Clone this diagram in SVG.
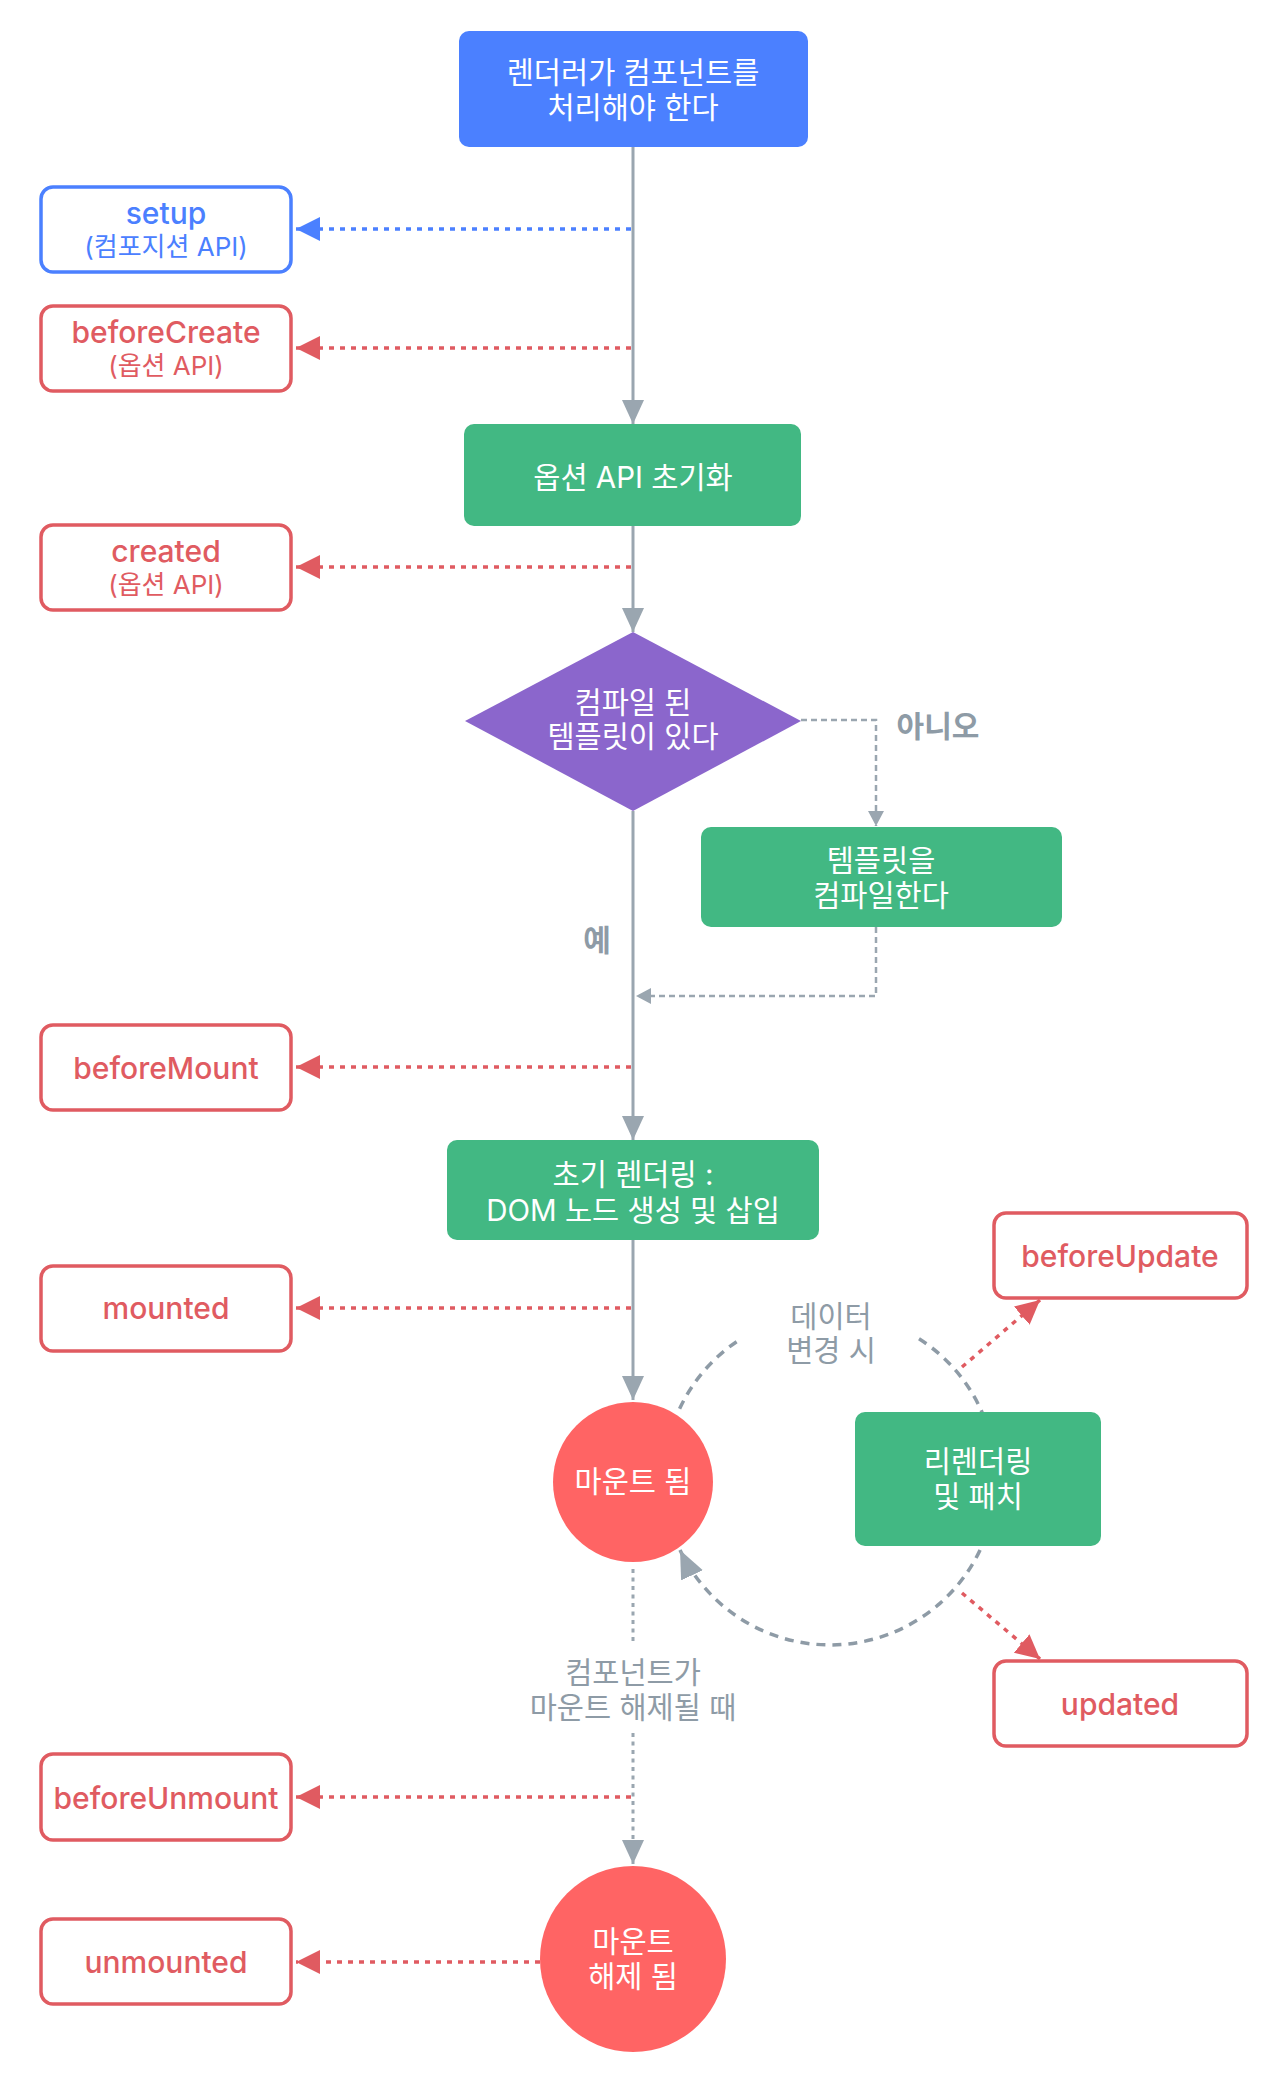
<svg xmlns="http://www.w3.org/2000/svg" width="1280" height="2089" viewBox="0 0 1280 2089">
<style>
text{font-family:Inter,"Noto Sans CJK KR",sans-serif;text-anchor:middle;font-weight:400}
.w{fill:#ffffff;font-size:29.5px}
.hk{fill:#ffffff;stroke-width:3.5}
.red{stroke:#e05b61}
.blue{stroke:#4b80ff}
.rt{fill:#e05b61;font-size:30px;font-weight:500}
.rt2{fill:#e05b61;font-size:26px}
.bt{fill:#4b80ff;font-size:30px;font-weight:500}
.bt2{fill:#4b80ff;font-size:26px}
.lbl{fill:#8e9ba6;font-size:29.5px}
.lblb{fill:#8e9ba6;font-size:30px;font-weight:700}
.solid{stroke:#9aa6b0;stroke-width:3;fill:none}
.dg{stroke:#9aa6b0;stroke-width:2.5;fill:none;stroke-dasharray:6 4}
.dv{stroke:#9aa6b0;stroke-width:3;fill:none;stroke-dasharray:4 4.5}
.arc{stroke:#8e9ba6;stroke-width:3.5;fill:none;stroke-dasharray:9 7}
.dr{stroke:#e05b61;stroke-width:3.5;fill:none;stroke-dasharray:5 6}
.db{stroke:#4b80ff;stroke-width:3.5;fill:none;stroke-dasharray:5 6}
.green{fill:#42b883}
</style>
<defs>
<marker id="ag" markerUnits="userSpaceOnUse" markerWidth="24" markerHeight="24" viewBox="0 0 24 24" refX="24" refY="12" orient="auto"><path d="M0,1 L24,12 L0,23 Z" fill="#9aa6b0"/></marker>
<marker id="ags" markerUnits="userSpaceOnUse" markerWidth="15" markerHeight="16" viewBox="0 0 15 16" refX="15" refY="8" orient="auto"><path d="M0,0 L15,8 L0,16 Z" fill="#9aa6b0"/></marker>
<marker id="aa" markerUnits="userSpaceOnUse" markerWidth="28" markerHeight="24" viewBox="0 0 28 24" refX="28" refY="12" orient="auto"><path d="M0,0 L28,12 L0,24 Z" fill="#9aa6b0"/></marker>
<marker id="ar" markerUnits="userSpaceOnUse" markerWidth="24" markerHeight="24" viewBox="0 0 24 24" refX="24" refY="12" orient="auto"><path d="M0,0 L24,12 L0,24 Z" fill="#e05b61"/></marker>
<marker id="ab" markerUnits="userSpaceOnUse" markerWidth="24" markerHeight="24" viewBox="0 0 24 24" refX="24" refY="12" orient="auto"><path d="M0,0 L24,12 L0,24 Z" fill="#4b80ff"/></marker>
</defs>
<rect width="1280" height="2089" fill="#ffffff"/>
<g id="connectors">
<path class="solid" d="M633 147 V424" marker-end="url(#ag)"/>
<path class="solid" d="M633 526 V632" marker-end="url(#ag)"/>
<path class="solid" d="M633 811 V1140" marker-end="url(#ag)"/>
<path class="solid" d="M633 1240 V1400" marker-end="url(#ag)"/>
<path class="db" d="M631 229 H296" marker-end="url(#ab)"/>
<path class="dr" d="M631 348 H296" marker-end="url(#ar)"/>
<path class="dr" d="M631 567 H296" marker-end="url(#ar)"/>
<path class="dr" d="M631 1067 H296" marker-end="url(#ar)"/>
<path class="dr" d="M631 1308 H296" marker-end="url(#ar)"/>
<path class="dr" d="M631 1797 H296" marker-end="url(#ar)"/>
<path class="dr" d="M540 1962 H296" marker-end="url(#ar)"/>
<path class="dg" d="M801 720 H876 V826" marker-end="url(#ags)"/>
<path class="dg" d="M876 927 V996 H636" marker-end="url(#ags)"/>
<path class="dv" d="M633 1569 V1645"/>
<path class="dv" d="M633 1733 V1864" marker-end="url(#ag)"/>
<path class="arc" d="M679.6 1408.8 A166 166 0 0 1 741 1338.8"/>
<path class="arc" d="M919 1338.8 A166 166 0 1 1 680 1550" marker-end="url(#aa)"/>
<path class="dr" d="M962 1367 L1040 1300" marker-end="url(#ar)"/>
<path class="dr" d="M962 1593 L1040 1659" marker-end="url(#ar)"/>
</g>
<g id="n-start">
<rect x="459" y="31" width="349" height="116" rx="10" fill="#4b80ff"/>
<text class="w" x="633" y="83">렌더러가 컴포넌트를</text>
<text class="w" x="633" y="118">처리해야 한다</text>
</g>
<g id="n-setup">
<rect class="hk blue" x="41" y="187" width="250" height="85" rx="12"/>
<text class="bt" x="166" y="224">setup</text>
<text class="bt2" x="166" y="256">(컴포지션 API)</text>
</g>
<g id="n-beforeCreate">
<rect class="hk red" x="41" y="306" width="250" height="85" rx="12"/>
<text class="rt" x="166" y="343">beforeCreate</text>
<text class="rt2" x="166" y="375">(옵션 API)</text>
</g>
<g id="n-init">
<rect class="green" x="464" y="424" width="337" height="102" rx="10"/>
<text class="w" x="633" y="488">옵션 API 초기화</text>
</g>
<g id="n-created">
<rect class="hk red" x="41" y="525" width="250" height="85" rx="12"/>
<text class="rt" x="166" y="562">created</text>
<text class="rt2" x="166" y="594">(옵션 API)</text>
</g>
<g id="n-decision">
<polygon points="633,632 801,721 633,811 465,721" fill="#8b66cc"/>
<text class="w" x="633" y="713">컴파일 된</text>
<text class="w" x="633" y="747">템플릿이 있다</text>
</g>
<g id="n-compile">
<rect class="green" x="701" y="827" width="361" height="100" rx="10"/>
<text class="w" x="881" y="871">템플릿을</text>
<text class="w" x="881" y="906">컴파일한다</text>
</g>
<g id="lbl-no"><text class="lblb" x="938" y="737">아니오</text></g>
<g id="lbl-yes"><text class="lblb" x="597" y="951">예</text></g>
<g id="n-beforeMount">
<rect class="hk red" x="41" y="1025" width="250" height="85" rx="12"/>
<text class="rt" x="166" y="1079">beforeMount</text>
</g>
<g id="n-render">
<rect class="green" x="447" y="1140" width="372" height="100" rx="10"/>
<text class="w" x="633" y="1185">초기 렌더링 :</text>
<text class="w" x="633" y="1221">DOM 노드 생성 및 삽입</text>
</g>
<g id="n-beforeUpdate">
<rect class="hk red" x="994" y="1213" width="253" height="85" rx="12"/>
<text class="rt" x="1120" y="1267">beforeUpdate</text>
</g>
<g id="n-mounted">
<rect class="hk red" x="41" y="1266" width="250" height="85" rx="12"/>
<text class="rt" x="166" y="1319">mounted</text>
</g>
<g id="lbl-data">
<text class="lbl" x="831" y="1327">데이터</text>
<text class="lbl" x="831" y="1361">변경 시</text>
</g>
<g id="n-mountedState">
<circle cx="633" cy="1482" r="80" fill="#ff6464"/>
<text class="w" x="633" y="1492">마운트 됨</text>
</g>
<g id="n-rerender">
<rect class="green" x="855" y="1412" width="246" height="134" rx="10"/>
<text class="w" x="978" y="1472">리렌더링</text>
<text class="w" x="978" y="1507">및 패치</text>
</g>
<g id="n-updated">
<rect class="hk red" x="994" y="1661" width="253" height="85" rx="12"/>
<text class="rt" x="1120" y="1715">updated</text>
</g>
<g id="lbl-unmount">
<text class="lbl" x="633" y="1683">컴포넌트가</text>
<text class="lbl" x="633" y="1718">마운트 해제될 때</text>
</g>
<g id="n-beforeUnmount">
<rect class="hk red" x="41" y="1754" width="250" height="86" rx="12"/>
<text class="rt" x="166" y="1809">beforeUnmount</text>
</g>
<g id="n-unmountedState">
<circle cx="633" cy="1959" r="93" fill="#ff6464"/>
<text class="w" x="633" y="1952">마운트</text>
<text class="w" x="633" y="1987">해제 됨</text>
</g>
<g id="n-unmounted">
<rect class="hk red" x="41" y="1919" width="250" height="85" rx="12"/>
<text class="rt" x="166" y="1973">unmounted</text>
</g>
</svg>
